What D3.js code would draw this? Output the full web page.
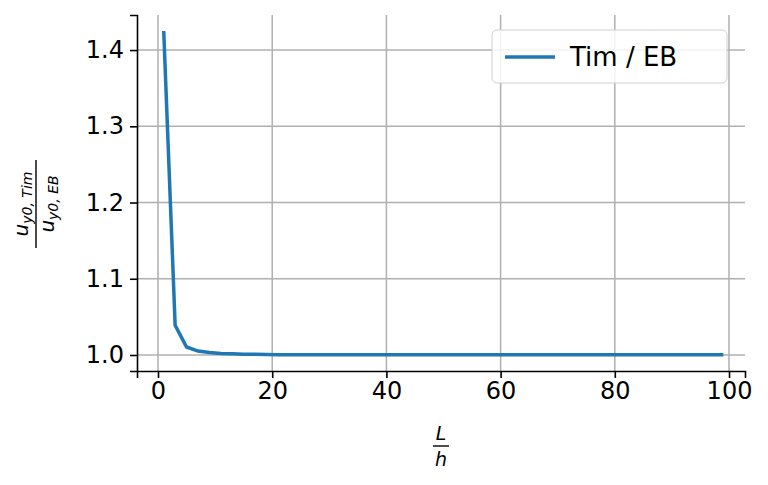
<!DOCTYPE html>
<html>
<head>
<meta charset="utf-8">
<script src="https://cdn.jsdelivr.net/npm/d3@7"></script>
<style>
  body { margin: 0; background: #fff; }
  text { font-family: "DejaVu Sans", sans-serif; }
</style>
</head>
<body>
<svg id="chart" width="768" height="485"></svg>
<script>
// L/h ratios and the deflection ratio Tim / EB
const slenderness = d3.range(1, 100, 2);
const ratioHead = [1.425, 1.039, 1.0105, 1.0052, 1.0032, 1.0021, 1.0015, 1.0011, 1.0009, 1.0007];
const ratioTail = slenderness.slice(ratioHead.length).map(() => 1.0004);
const ratio = ratioHead.concat(ratioTail);
const xTicks = [0, 20, 40, 60, 80, 100];
const yTicks = [1.0, 1.1, 1.2, 1.3, 1.4];

const data = slenderness.map((s, i) => ({ s: s, r: ratio[i] }));

const svg = d3.select("#chart");
const margin = { top: 15, right: 23, bottom: 114, left: 137 };
const width = 768, height = 485;

const x = d3.scaleLinear().domain([-3.68, 102.8]).range([margin.left, width - margin.right]);
const y = d3.scaleLinear().domain([0.979, 1.446]).range([height - margin.bottom, margin.top]);

// grid
svg.append("g").selectAll("line").data(xTicks).join("line")
  .attr("x1", d => x(d)).attr("x2", d => x(d))
  .attr("y1", margin.top).attr("y2", height - margin.bottom)
  .attr("stroke", "#b0b0b0").attr("stroke-width", 1.5);
svg.append("g").selectAll("line").data(yTicks).join("line")
  .attr("x1", margin.left).attr("x2", width - margin.right)
  .attr("y1", d => y(d)).attr("y2", d => y(d))
  .attr("stroke", "#b0b0b0").attr("stroke-width", 1.5);

const xAxis = svg.append("g")
  .attr("transform", `translate(0,${height - margin.bottom})`)
  .call(d3.axisBottom(x).tickValues(xTicks).tickSizeOuter(0).tickSize(7).tickPadding(4));
const yAxis = svg.append("g")
  .attr("transform", `translate(${margin.left},0)`)
  .call(d3.axisLeft(y).tickValues(yTicks).tickFormat(d3.format(".1f")).tickSizeOuter(0).tickSize(7).tickPadding(6));
[xAxis, yAxis].forEach(g => {
  g.selectAll("text").attr("font-size", 24).attr("fill", "#000");
  g.selectAll("line, path").attr("stroke", "#000").attr("stroke-width", 1.6);
});

const line = d3.line().x(d => x(d.s)).y(d => y(d.r));
svg.append("path").datum(data)
  .attr("fill", "none").attr("stroke", "#1f77b4").attr("stroke-width", 3.5)
  .attr("d", line);

// x label L/h
const xl = svg.append("g").attr("transform", `translate(${(x(-3.68) + x(102.8)) / 2},0)`)
  .attr("font-style", "italic").attr("font-size", 19).attr("text-anchor", "middle");
xl.append("text").attr("y", 440).text("L");
xl.append("line").attr("x1", -8).attr("x2", 8).attr("y1", 446).attr("y2", 446).attr("stroke", "#000").attr("stroke-width", 1.4);
xl.append("text").attr("y", 466).text("h");

// y label fraction
const yl = svg.append("g").attr("transform", "translate(30,204) rotate(-90)")
  .attr("font-style", "italic").attr("font-size", 20).attr("text-anchor", "middle");
const num = yl.append("text").attr("y", -2);
num.append("tspan").text("u");
num.append("tspan").attr("font-size", 14).attr("dy", 4).text("y0, Tim");
yl.append("line").attr("x1", -44).attr("x2", 44).attr("y1", 6).attr("y2", 6).attr("stroke", "#000").attr("stroke-width", 1.4);
const den = yl.append("text").attr("y", 24);
den.append("tspan").text("u");
den.append("tspan").attr("font-size", 14).attr("dy", 4).text("y0, EB");

// legend
const lg = svg.append("g");
lg.append("rect").attr("x", 492).attr("y", 30).attr("width", 235).attr("height", 53).attr("rx", 5)
  .attr("fill", "rgba(255,255,255,0.85)").attr("stroke", "#d0d0d0");
lg.append("line").attr("x1", 505).attr("x2", 555).attr("y1", 57).attr("y2", 57)
  .attr("stroke", "#1f77b4").attr("stroke-width", 3.5);
lg.append("text").attr("x", 570).attr("y", 66).attr("font-size", 26).text("Tim / EB");
</script>
</body>
</html>
